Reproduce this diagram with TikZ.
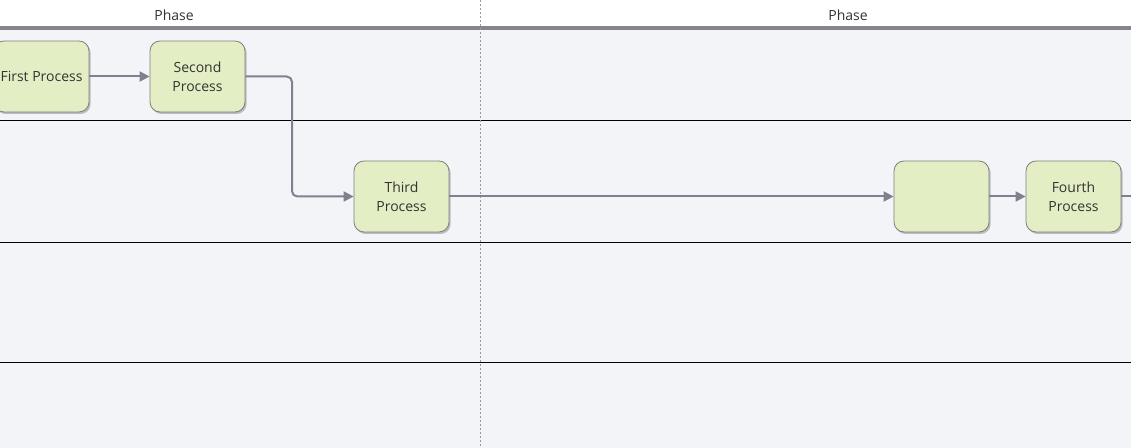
\documentclass[tikz,border=0pt]{standalone}
\usepackage{fontspec}
\setmainfont{Open Sans}
\usetikzlibrary{arrows.meta,shadows}
\definecolor{bgc}{HTML}{F3F4F8}
\definecolor{boxfill}{HTML}{E3EEC4}
\definecolor{boxline}{HTML}{7F7F7F}
\definecolor{conn}{HTML}{80808F}
\definecolor{hdr}{HTML}{85848F}
\definecolor{txt}{HTML}{333333}
\begin{document}
\begin{tikzpicture}[x=0.75pt,y=-0.75pt,
  proc/.style={draw=boxline,line width=0.6pt,fill=boxfill,rounded corners=7.5pt,
    minimum width=71.25pt,minimum height=53.25pt,inner sep=0pt,align=center,
    font=\fontsize{10.5pt}{14.2pt}\selectfont,text=txt,
    drop shadow={shadow xshift=1.2pt,shadow yshift=-1.5pt,opacity=0.4,fill=black!60}},
  flow/.style={draw=conn,line width=1.5pt,-{Triangle[length=7.5pt,width=7.5pt]}},
  phase/.style={font=\fontsize{10.5pt}{12pt}\selectfont,text=txt,inner sep=0pt},
  lane/.style={draw=black,line width=0.8pt}]
\useasboundingbox (0,0) rectangle (1131,448);
\clip (0,0) rectangle (1131,448);
\fill[white] (0,0) rectangle (1131,448);
\fill[bgc] (0,29) rectangle (1131,448);
\draw[hdr,line width=2.6pt] (0,28) -- (1131,28);
\draw[lane] (0,120.5) -- (1131,120.5);
\draw[lane] (0,242.5) -- (1131,242.5);
\draw[lane] (0,362.5) -- (1131,362.5);
\draw[gray!80,line width=0.8pt,dash pattern=on 1.5pt off 1.5pt] (480.5,0) -- (480.5,448);
\node[phase] (ph1) at (174,15) {Phase};
\node[phase] (ph2) at (848,15) {Phase};
\node[proc] (p1) at (41.5,76.5) {First Process};
\node[proc] (p2) at (197.5,76.5) {Second\\Process};
\node[proc] (p3) at (401.5,196.5) {Third\\Process};
\node[proc] (p5) at (941.5,196.5) {};
\node[proc] (p4) at (1073.5,196.5) {Fourth\\Process};
\coordinate (out) at (1140,196.5);
\draw[flow] (p1.east) -- (p2.west);
\draw[flow,rounded corners=4pt] (p2.east) -- (292,76.5) -- (292,196.5) -- (p3.west);
\draw[flow] (p3.east) -- (p5.west);
\draw[flow] (p5.east) -- (p4.west);
\draw[draw=conn,line width=1.5pt] (p4.east) -- (out);
\end{tikzpicture}
\end{document}
